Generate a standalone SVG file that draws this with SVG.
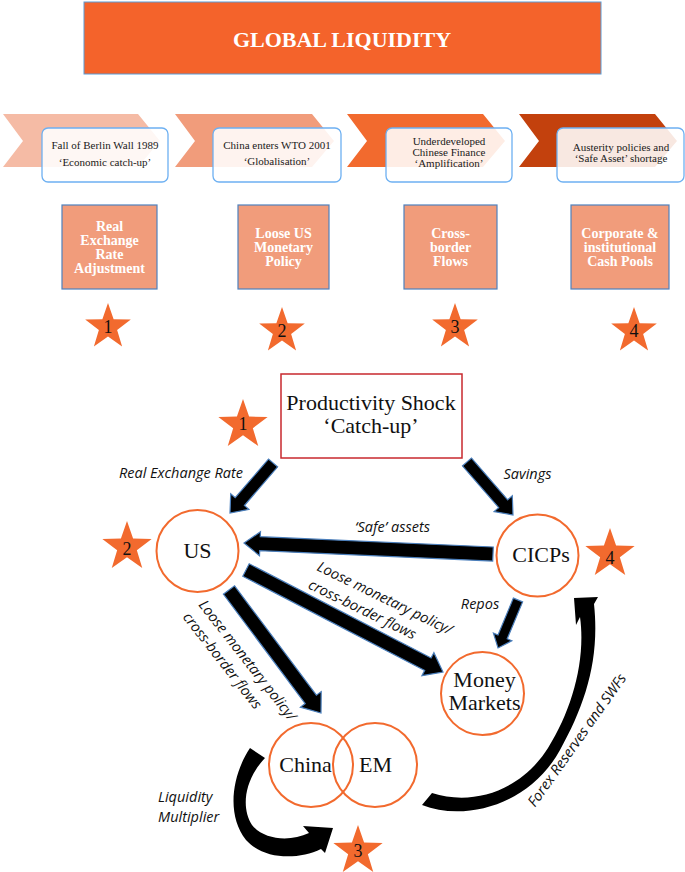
<svg xmlns="http://www.w3.org/2000/svg" xmlns:xlink="http://www.w3.org/1999/xlink" width="685" height="872" viewBox="0 0 685 872">
<style>
.serif{font-family:"Liberation Serif","DejaVu Serif",serif;}
.small{font-family:"Liberation Serif","DejaVu Serif",serif;font-size:11px;fill:#1a1a1a;text-anchor:middle;}
.box{fill:#F19C7B;stroke:#4F81BD;stroke-width:1.2;}
.boxt{font-family:"Liberation Serif","DejaVu Serif",serif;font-size:14px;font-weight:bold;fill:#ffffff;text-anchor:middle;}
.card{fill:#ffffff;fill-opacity:0.88;stroke:#6DB0F2;stroke-width:1.3;}
.circ{fill:none;stroke:#F26A2E;stroke-width:2;}
.node{font-family:"Liberation Serif","DejaVu Serif",serif;font-size:22px;fill:#111;text-anchor:middle;}
.num{font-family:"Liberation Serif","DejaVu Serif",serif;font-size:18px;fill:#111;text-anchor:middle;}
.lbl{font-family:"Open Sans","Noto Sans","DejaVu Sans",sans-serif;font-style:italic;font-size:14.5px;fill:#111;}
.arr{fill:#000;stroke:#4A7EBB;stroke-width:1.2;stroke-linejoin:miter;}
.curve{fill:#000;stroke:none;}
.star{fill:#F26A2E;}
</style>
<defs>
<path id="star" d="M0,-24 L5.64,-7.78 L22.82,-7.42 L9.12,2.98 L14.11,19.42 L0,9.6 L-14.11,19.42 L-9.12,2.98 L-22.82,-7.42 L-5.64,-7.78 Z"/>
</defs>

<g id="title">
<rect x="84" y="2" width="517" height="72" fill="#F4632B" stroke="#5B9BD5" stroke-width="1"/>
<text x="342" y="47" class="serif" font-size="22" font-weight="bold" fill="#ffffff" text-anchor="middle">GLOBAL LIQUIDITY</text>
</g>

<g id="step1">
<polygon points="3,114 138,114 160,141 138,167 3,167 23,141" fill="#F5BBA5"/>
<rect class="card" x="42" y="128" width="126" height="54" rx="6"/>
<text class="small" x="105" y="149">Fall of Berlin Wall 1989</text>
<text class="small" x="105" y="166">‘Economic catch-up’</text>
</g>
<g id="step2">
<polygon points="175,114 312,114 334,141 312,167 175,167 195,141" fill="#F19C7B"/>
<rect class="card" x="213" y="128" width="128" height="54" rx="6"/>
<text class="small" x="277" y="149">China enters WTO 2001</text>
<text class="small" x="277" y="165">‘Globalisation’</text>
</g>
<g id="step3">
<polygon points="347,114 483,114 505,141 483,167 347,167 367,141" fill="#F26A2E"/>
<rect class="card" x="386" y="128" width="126" height="54" rx="6"/>
<text class="small" x="449" y="145">Underdeveloped</text>
<text class="small" x="449" y="156">Chinese Finance</text>
<text class="small" x="449" y="167">‘Amplification’</text>
</g>
<g id="step4">
<polygon points="519,114 655,114 677,141 655,167 519,167 539,141" fill="#C3410D"/>
<rect class="card" x="557" y="128" width="127" height="54" rx="6"/>
<text class="small" x="621" y="150.5">Austerity policies and</text>
<text class="small" x="621" y="161.5">‘Safe Asset’ shortage</text>
</g>

<g id="factor1">
<rect class="box" x="62" y="205" width="95" height="84"/>
<text class="boxt" x="109.5" y="231">Real</text>
<text class="boxt" x="109.5" y="245">Exchange</text>
<text class="boxt" x="109.5" y="259">Rate</text>
<text class="boxt" x="109.5" y="273">Adjustment</text>
</g>
<g id="factor2">
<rect class="box" x="238" y="205" width="91" height="84"/>
<text class="boxt" x="283.5" y="238">Loose US</text>
<text class="boxt" x="283.5" y="252">Monetary</text>
<text class="boxt" x="283.5" y="266">Policy</text>
</g>
<g id="factor3">
<rect class="box" x="404" y="205" width="93" height="84"/>
<text class="boxt" x="450.5" y="238">Cross-</text>
<text class="boxt" x="450.5" y="252">border</text>
<text class="boxt" x="450.5" y="266">Flows</text>
</g>
<g id="factor4">
<rect class="box" x="571" y="205" width="98" height="84"/>
<text class="boxt" x="620" y="238">Corporate &amp;</text>
<text class="boxt" x="620" y="252">institutional</text>
<text class="boxt" x="620" y="266">Cash Pools</text>
</g>

<g id="star-top-1"><use xlink:href="#star" class="star" transform="translate(108,327)"/><text class="num" x="108" y="333">1</text></g>
<g id="star-top-2"><use xlink:href="#star" class="star" transform="translate(282,331)"/><text class="num" x="282" y="337">2</text></g>
<g id="star-top-3"><use xlink:href="#star" class="star" transform="translate(455,327)"/><text class="num" x="455" y="333">3</text></g>
<g id="star-top-4"><use xlink:href="#star" class="star" transform="translate(634,331)"/><text class="num" x="634" y="337">4</text></g>

<g id="connectors">
<polygon class="arr" points="268.5,459.1 235.2,497.7 230.7,493.8 230,513 248.9,509.4 244.4,505.5 277.6,466.9"/>
<polygon class="arr" points="462.5,465.9 498.7,507.6 494.1,511.6 513,515 512.3,495.8 507.7,499.8 471.5,458.1"/>
<polygon class="arr" points="493.3,547 260.3,536.7 260.5,531.7 244,543 259.5,555.7 259.7,550.7 492.7,561"/>
<polygon class="arr" points="242.8,576.2 424.7,670.4 421.9,675.7 443,672 433.9,652.7 431.1,658 249.2,563.8"/>
<polygon class="arr" points="223.4,594.2 305.2,703.6 300.4,707.2 321,713 321.2,691.6 316.4,695.2 234.6,585.8"/>
<polygon class="arr" points="513.4,598.1 498,635 493.4,633.1 498,648 511.8,640.8 507.2,638.8 522.6,601.9"/>
<path class="curve" d="M250,748 C232,775 226,815 246,840 C264,860 298,860 321,849 L325,853 L333,828 L303,826 L309,833 C290,842 264,840 252,825 C241,808 244,780 265,758 Z"/>
<path class="curve" d="M422,805 C465,822 530,805 560,750 C585,705 600,660 594,604 L598,597 L574,598 L576,625 L580,617 C586,660 572,710 548,748 C520,792 472,806 432,793 Z"/>
<text class="lbl" x="181" y="478" text-anchor="middle">Real Exchange Rate</text>
<text class="lbl" x="527.5" y="479" text-anchor="middle">Savings</text>
<text class="lbl" x="392.5" y="532" text-anchor="middle">‘Safe’ assets</text>
<text class="lbl" x="480" y="609" text-anchor="middle">Repos</text>
<text class="lbl" transform="translate(316,570) rotate(26)"><tspan x="0" y="0">Loose monetary policy/</tspan><tspan x="0" y="20">cross-border flows</tspan></text>
<text class="lbl" transform="translate(198,605) rotate(52)"><tspan x="0" y="0">Loose monetary policy/</tspan><tspan x="0" y="20">cross-border flows</tspan></text>
<text class="lbl" x="158" y="802">Liquidity</text>
<text class="lbl" x="158" y="822">Multiplier</text>
<text class="lbl" text-anchor="middle" transform="translate(581,743) rotate(-54.7)">Forex Reserves and SWFs</text>
</g>

<g id="productivity-shock">
<rect x="281" y="374" width="181" height="84" fill="#ffffff" stroke="#C8282E" stroke-width="1.5"/>
<text class="node" x="371" y="410">Productivity Shock</text>
<text class="node" x="371" y="433">‘Catch-up’</text>
</g>
<g id="us">
<circle class="circ" cx="197.5" cy="551" r="41"/>
<text class="node" x="197.5" y="558">US</text>
</g>
<g id="cicps">
<circle class="circ" cx="537.5" cy="555.5" r="41"/>
<text class="node" x="541" y="562">CICPs</text>
</g>
<g id="money-markets">
<circle class="circ" cx="482.5" cy="693.5" r="41.5"/>
<text class="node" x="484.5" y="687">Money</text>
<text class="node" x="484.5" y="710">Markets</text>
</g>
<g id="china">
<circle class="circ" cx="311" cy="765" r="42"/>
<text class="node" x="305.5" y="772">China</text>
</g>
<g id="em">
<circle class="circ" cx="375" cy="765" r="42"/>
<text class="node" x="375.5" y="772">EM</text>
</g>

<g id="star-1"><use xlink:href="#star" class="star" transform="translate(243,425) scale(1.08)"/><text class="num" x="243" y="429.5">1</text></g>
<g id="star-2"><use xlink:href="#star" class="star" transform="translate(127,547) scale(1.08)"/><text class="num" x="127" y="554.5">2</text></g>
<g id="star-4"><use xlink:href="#star" class="star" transform="translate(610,554) scale(1.08)"/><text class="num" x="610" y="563.5">4</text></g>
<g id="star-3"><use xlink:href="#star" class="star" transform="translate(358,851) scale(1.08)"/><text class="num" x="358" y="856.5">3</text></g>
</svg>
